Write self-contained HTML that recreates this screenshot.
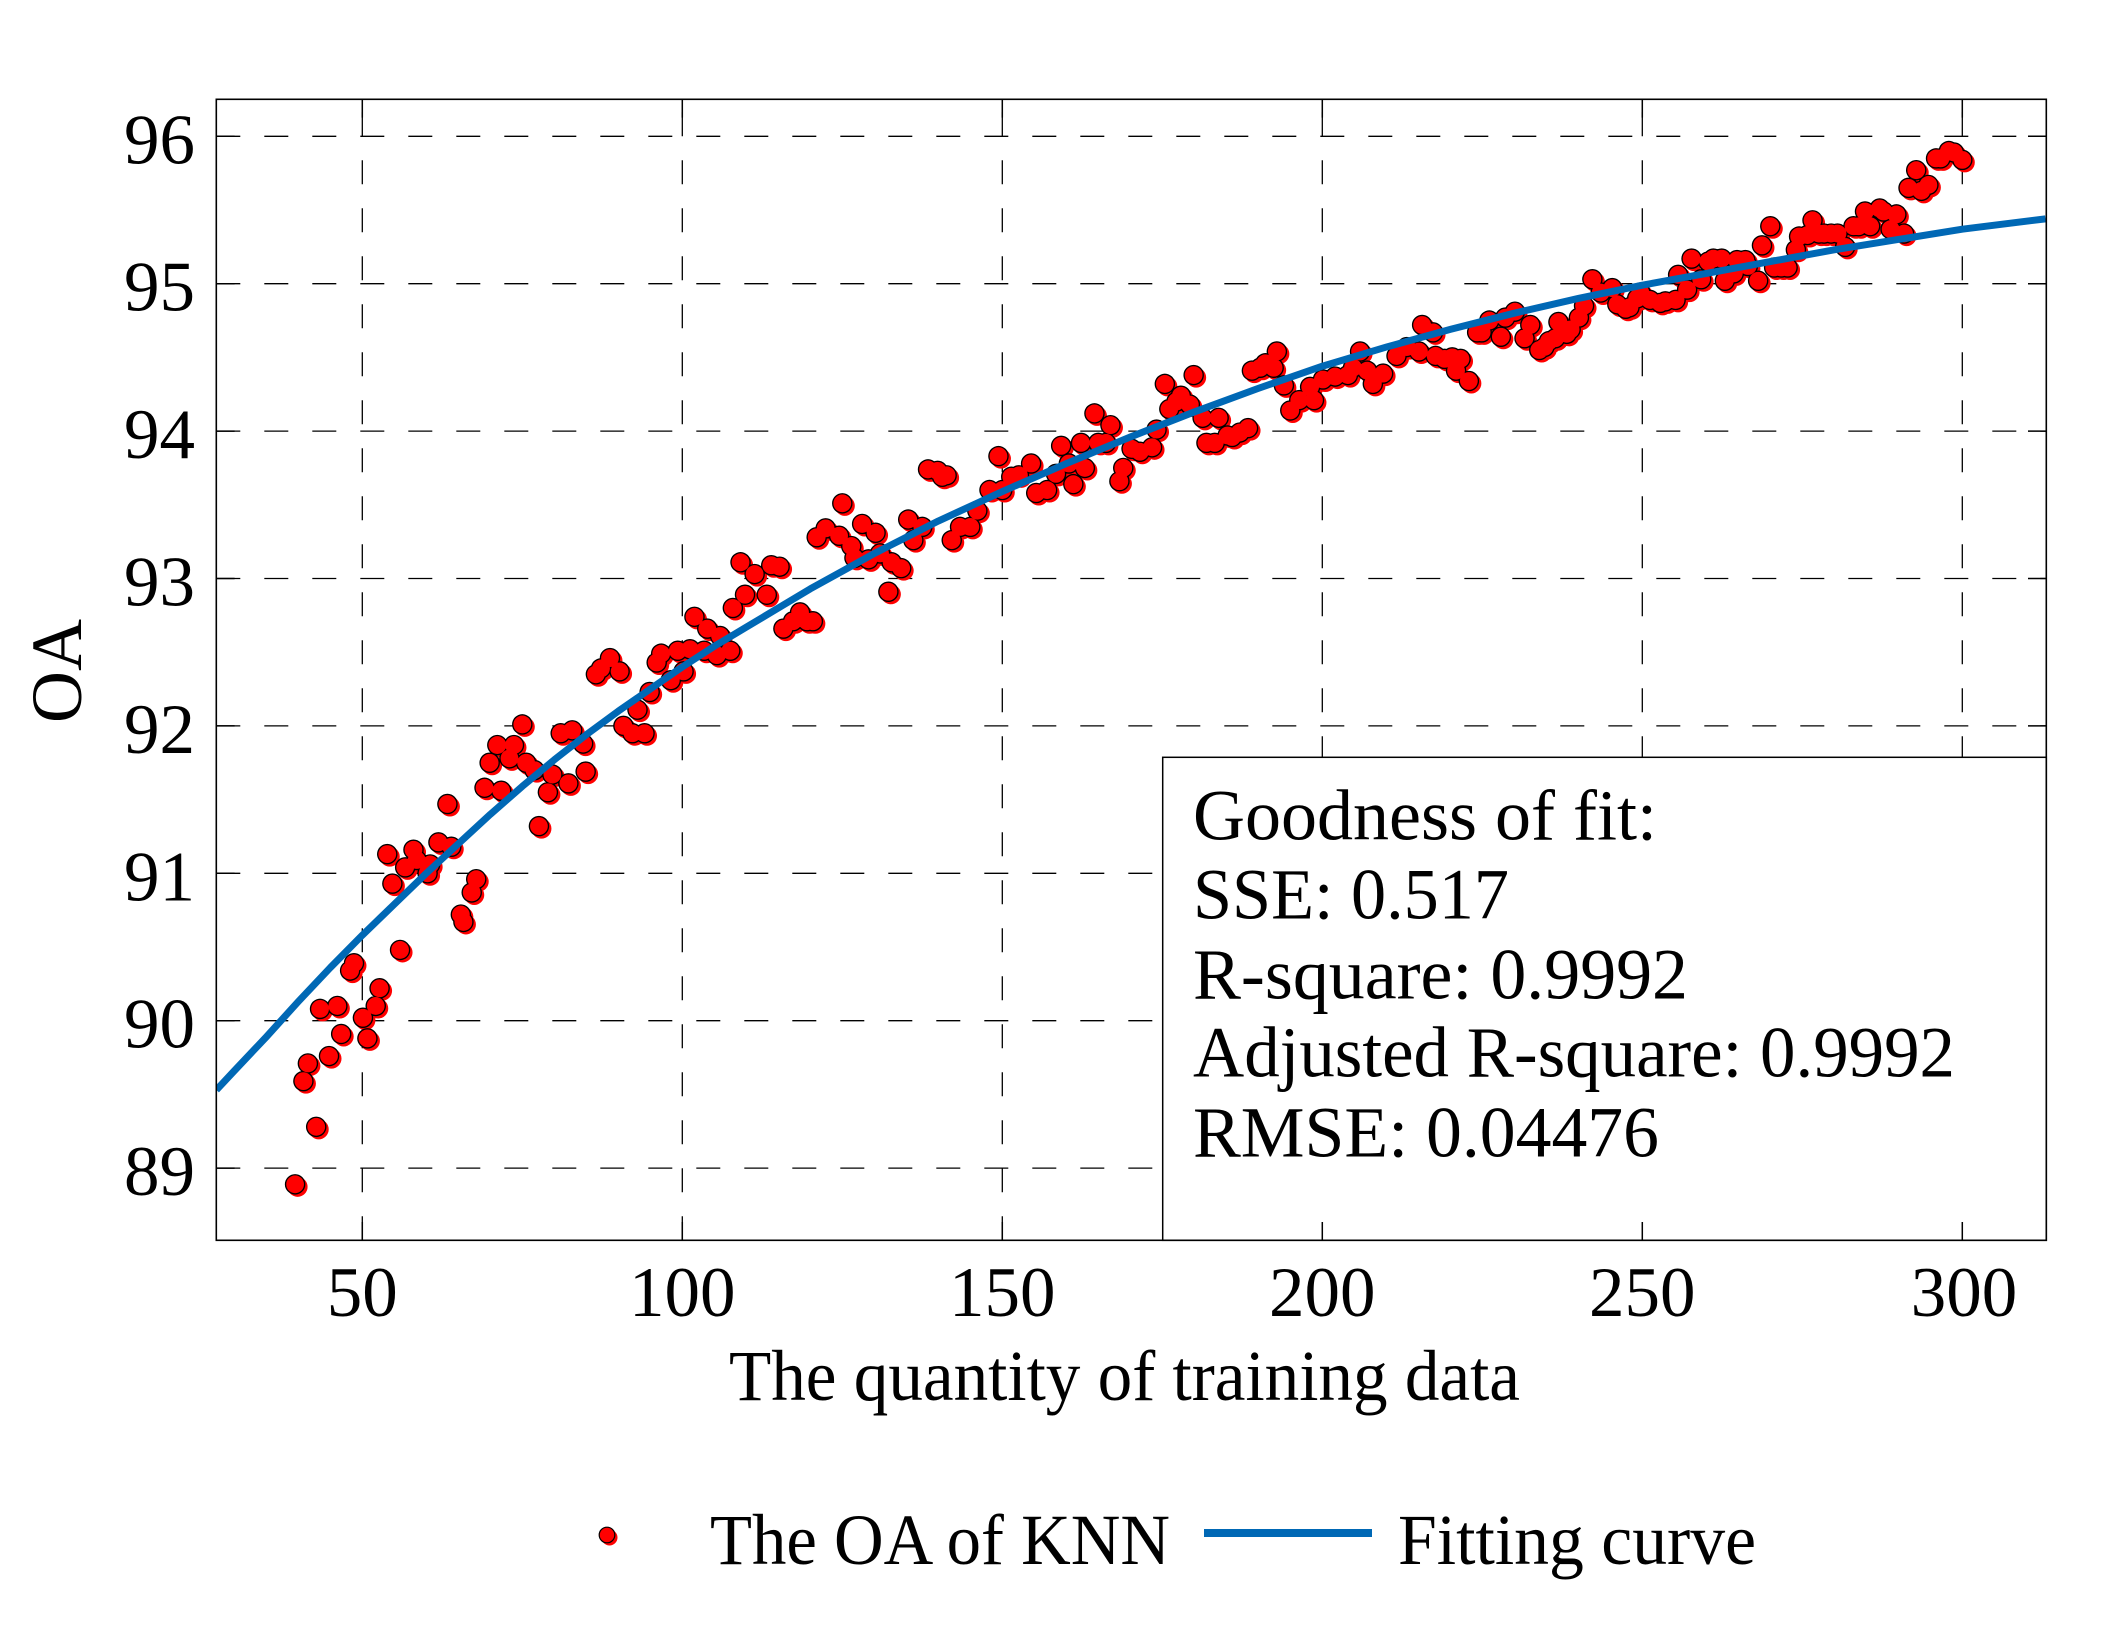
<!DOCTYPE html>
<html>
<head>
<meta charset="utf-8">
<style>
html,body{margin:0;padding:0;background:#fff;}
svg{display:block;}
text{font-family:"Liberation Serif","Times New Roman",serif;fill:#000;}
</style>
</head>
<body>
<svg width="2117" height="1634" viewBox="0 0 2117 1634" xmlns="http://www.w3.org/2000/svg" xmlns:xlink="http://www.w3.org/1999/xlink">
<rect x="0" y="0" width="2117" height="1634" fill="#fff"/>
<defs>
<clipPath id="plot"><rect x="216.3" y="99.3" width="1830" height="1141"/></clipPath>
<path id="pts" vector-effect="non-scaling-stroke" d="M39.5 88.89h0M42.8 89.28h0M40.8 89.59h0M41.5 89.71h0M44.8 89.76h0M46.7 89.91h0M43.4 90.08h0M46.1 90.10h0M50.8 89.88h0M50.1 90.02h0M52.1 90.10h0M52.7 90.22h0M48.1 90.34h0M48.7 90.39h0M55.9 90.48h0M54.7 90.93h0M53.9 91.13h0M56.7 91.04h0M58.0 91.16h0M58.5 91.09h0M60.2 91.00h0M60.6 91.06h0M61.9 91.21h0M63.9 91.18h0M63.3 91.47h0M65.4 90.72h0M65.8 90.67h0M67.1 90.87h0M67.8 90.96h0M69.1 91.58h0M71.7 91.56h0M69.9 91.75h0M71.1 91.87h0M73.7 91.87h0M73.0 91.78h0M75.0 92.01h0M75.6 91.75h0M76.9 91.70h0M77.6 91.32h0M79.0 91.55h0M79.7 91.67h0M82.2 91.61h0M81.0 91.95h0M82.8 91.97h0M84.5 91.88h0M84.9 91.69h0M86.5 92.35h0M87.3 92.39h0M88.7 92.46h0M90.2 92.37h0M90.8 92.00h0M92.2 91.95h0M94.1 91.95h0M93.0 92.11h0M94.9 92.23h0M96.0 92.43h0M96.7 92.49h0M98.2 92.31h0M99.3 92.51h0M100.2 92.37h0M101.2 92.52h0M103.4 92.51h0M105.4 92.48h0M107.5 92.51h0M101.9 92.74h0M103.9 92.66h0M105.9 92.61h0M107.9 92.80h0M109.8 92.89h0M109.1 93.11h0M111.3 93.03h0M113.9 93.09h0M115.2 93.08h0M113.2 92.89h0M115.8 92.66h0M118.4 92.77h0M117.3 92.71h0M119.5 92.71h0M120.4 92.71h0M125.0 93.51h0M121.0 93.28h0M122.4 93.34h0M124.5 93.29h0M126.4 93.22h0M126.9 93.14h0M128.1 93.37h0M130.2 93.31h0M129.1 93.13h0M130.9 93.17h0M132.7 93.11h0M134.2 93.07h0M132.2 92.91h0M135.3 93.40h0M137.5 93.35h0M136.1 93.26h0M138.4 93.74h0M139.9 93.73h0M141.3 93.70h0M142.1 93.26h0M143.4 93.35h0M145.0 93.35h0M146.1 93.46h0M148.0 93.60h0M140.6 93.69h0M149.4 93.83h0M150.0 93.60h0M151.4 93.69h0M152.6 93.70h0M154.5 93.78h0M155.3 93.58h0M157.0 93.60h0M158.4 93.71h0M159.2 93.90h0M160.4 93.78h0M161.1 93.64h0M162.3 93.92h0M162.9 93.75h0M164.4 94.12h0M165.0 93.92h0M166.2 93.92h0M166.9 94.04h0M168.9 93.75h0M168.3 93.66h0M170.2 93.88h0M171.5 93.86h0M173.4 93.89h0M174.1 94.01h0M175.4 94.32h0M176.1 94.15h0M177.2 94.20h0M177.9 94.24h0M179.3 94.18h0M179.9 94.38h0M181.3 94.09h0M181.9 93.92h0M183.2 93.92h0M183.8 94.09h0M185.2 93.97h0M185.9 93.96h0M187.1 93.99h0M188.4 94.02h0M189.0 94.41h0M190.3 94.43h0M191.1 94.46h0M192.4 94.43h0M192.9 94.54h0M194.0 94.31h0M195.0 94.14h0M196.4 94.21h0M198.1 94.30h0M198.7 94.21h0M200.1 94.35h0M202.0 94.37h0M204.0 94.38h0M204.8 94.43h0M205.9 94.54h0M207.0 94.41h0M207.9 94.32h0M209.5 94.39h0M211.6 94.51h0M213.2 94.57h0M215.1 94.54h0M215.6 94.72h0M217.3 94.67h0M217.7 94.51h0M219.1 94.49h0M220.3 94.50h0M221.6 94.49h0M220.9 94.41h0M222.9 94.34h0M224.2 94.67h0M224.9 94.67h0M226.1 94.75h0M227.9 94.64h0M228.6 94.77h0M230.1 94.81h0M231.6 94.63h0M232.5 94.72h0M233.9 94.55h0M234.7 94.57h0M235.4 94.61h0M236.4 94.63h0M236.9 94.74h0M238.2 94.66h0M238.8 94.69h0M240.1 94.77h0M240.9 94.85h0M242.2 95.03h0M243.5 94.94h0M245.3 94.97h0M246.1 94.86h0M247.4 94.83h0M248.0 94.84h0M249.2 94.90h0M249.7 94.94h0M251.2 94.89h0M252.8 94.87h0M253.6 94.88h0M255.2 94.89h0M255.6 95.06h0M257.0 94.96h0M257.7 95.17h0M259.2 95.03h0M260.3 95.15h0M261.1 95.17h0M262.4 95.17h0M262.9 95.02h0M264.3 95.07h0M264.8 95.16h0M266.1 95.16h0M266.5 95.12h0M268.1 95.02h0M268.7 95.26h0M270.0 95.39h0M270.6 95.11h0M271.7 95.11h0M272.7 95.11h0M274.0 95.23h0M274.5 95.32h0M275.8 95.33h0M276.6 95.43h0M277.6 95.34h0M278.4 95.34h0M279.5 95.34h0M280.5 95.34h0M281.7 95.25h0M283.0 95.39h0M283.8 95.39h0M284.8 95.49h0M285.6 95.39h0M287.1 95.51h0M287.7 95.49h0M289.7 95.47h0M288.8 95.37h0M290.9 95.34h0M291.6 95.65h0M292.8 95.77h0M293.6 95.63h0M294.7 95.67h0M295.9 95.85h0M296.6 95.85h0M297.9 95.90h0M298.7 95.89h0M300.0 95.84h0"/>
</defs>

<!-- grid -->
<g stroke="#000" stroke-width="1.3" stroke-dasharray="24 24" fill="none">
<line x1="216.3" y1="136.3" x2="2046.3" y2="136.3"/>
<line x1="216.3" y1="283.7" x2="2046.3" y2="283.7"/>
<line x1="216.3" y1="431.1" x2="2046.3" y2="431.1"/>
<line x1="216.3" y1="578.5" x2="2046.3" y2="578.5"/>
<line x1="216.3" y1="725.9" x2="2046.3" y2="725.9"/>
<line x1="216.3" y1="873.3" x2="2046.3" y2="873.3"/>
<line x1="216.3" y1="1020.7" x2="2046.3" y2="1020.7"/>
<line x1="216.3" y1="1168.1" x2="2046.3" y2="1168.1"/>
<line x1="362.3" y1="1240.3" x2="362.3" y2="99.3"/>
<line x1="682.3" y1="1240.3" x2="682.3" y2="99.3"/>
<line x1="1002.3" y1="1240.3" x2="1002.3" y2="99.3"/>
<line x1="1322.3" y1="1240.3" x2="1322.3" y2="99.3"/>
<line x1="1642.3" y1="1240.3" x2="1642.3" y2="99.3"/>
<line x1="1962.3" y1="1240.3" x2="1962.3" y2="99.3"/>
</g>

<g clip-path="url(#plot)">
<!-- marker shadows -->
<g transform="matrix(6.4 0 0 -147.4 44.8 14289.2)" fill="none" stroke="#ff0000" stroke-width="20" stroke-linecap="round">
<use href="#pts" xlink:href="#pts"/>
</g>
<!-- marker outline -->
<g transform="matrix(6.4 0 0 -147.4 42.3 14286.7)" fill="none" stroke="#000000" stroke-width="20.5" stroke-linecap="round">
<use href="#pts" xlink:href="#pts"/>
</g>
<!-- marker fill -->
<g transform="matrix(6.4 0 0 -147.4 42.3 14286.7)" fill="none" stroke="#ff0000" stroke-width="17.8" stroke-linecap="round">
<use href="#pts" xlink:href="#pts"/>
</g>
<!-- fitting curve -->
<g transform="matrix(6.4 0 0 -147.4 42.3 14286.7)">
<polyline fill="none" stroke="#0068B5" stroke-width="7" stroke-linejoin="round" vector-effect="non-scaling-stroke"
points="27.2,89.53 30,89.66 35,89.89 40,90.13 45,90.36 50,90.58 55,90.79 60,91.00 65,91.20 70,91.40 75,91.59 80,91.77 85,91.94 90,92.10 95,92.25 100,92.40 105,92.54 110,92.67 115,92.80 120,92.93 125,93.05 130,93.17 135,93.28 140,93.39 145,93.49 150,93.59 160,93.78 170,93.96 180,94.13 190,94.29 200,94.44 210,94.57 220,94.69 230,94.80 240,94.90 250,94.99 260,95.07 270,95.15 280,95.23 290,95.30 300,95.37 313,95.44"/>
</g>
</g>

<!-- goodness of fit box -->
<rect x="1162.7" y="757.3" width="883.6" height="483" fill="#fff" stroke="#000" stroke-width="1.5"/>
<g font-size="72">
<text x="1193" y="839.3" textLength="464" lengthAdjust="spacingAndGlyphs">Goodness of fit:</text>
<text x="1193" y="918.3" textLength="316" lengthAdjust="spacingAndGlyphs">SSE: 0.517</text>
<text x="1193" y="998.3" textLength="495" lengthAdjust="spacingAndGlyphs">R-square: 0.9992</text>
<text x="1193" y="1076.7" textLength="762" lengthAdjust="spacingAndGlyphs">Adjusted R-square: 0.9992</text>
<text x="1193" y="1156.7" textLength="466" lengthAdjust="spacingAndGlyphs">RMSE: 0.04476</text>
</g>

<!-- axes box -->
<rect x="216.3" y="99.3" width="1830" height="1141" fill="none" stroke="#000" stroke-width="1.6"/>

<!-- ticks -->
<g stroke="#000" stroke-width="1.5">
<line x1="362.3" y1="1240.3" x2="362.3" y2="1222"/>
<line x1="682.3" y1="1240.3" x2="682.3" y2="1222"/>
<line x1="1002.3" y1="1240.3" x2="1002.3" y2="1222"/>
<line x1="1322.3" y1="1240.3" x2="1322.3" y2="1222"/>
<line x1="1642.3" y1="1240.3" x2="1642.3" y2="1222"/>
<line x1="1962.3" y1="1240.3" x2="1962.3" y2="1222"/>
<line x1="362.3" y1="99.3" x2="362.3" y2="117.6"/>
<line x1="682.3" y1="99.3" x2="682.3" y2="117.6"/>
<line x1="1002.3" y1="99.3" x2="1002.3" y2="117.6"/>
<line x1="1322.3" y1="99.3" x2="1322.3" y2="117.6"/>
<line x1="1642.3" y1="99.3" x2="1642.3" y2="117.6"/>
<line x1="1962.3" y1="99.3" x2="1962.3" y2="117.6"/>
<line x1="216.3" y1="136.3" x2="234.6" y2="136.3"/>
<line x1="216.3" y1="283.7" x2="234.6" y2="283.7"/>
<line x1="216.3" y1="431.1" x2="234.6" y2="431.1"/>
<line x1="216.3" y1="578.5" x2="234.6" y2="578.5"/>
<line x1="216.3" y1="725.9" x2="234.6" y2="725.9"/>
<line x1="216.3" y1="873.3" x2="234.6" y2="873.3"/>
<line x1="216.3" y1="1020.7" x2="234.6" y2="1020.7"/>
<line x1="216.3" y1="1168.1" x2="234.6" y2="1168.1"/>
<line x1="2046.3" y1="136.3" x2="2028" y2="136.3"/>
<line x1="2046.3" y1="283.7" x2="2028" y2="283.7"/>
<line x1="2046.3" y1="431.1" x2="2028" y2="431.1"/>
<line x1="2046.3" y1="578.5" x2="2028" y2="578.5"/>
<line x1="2046.3" y1="725.9" x2="2028" y2="725.9"/>
</g>

<!-- y tick labels -->
<g font-size="71" text-anchor="end">
<text x="195" y="163.3">96</text>
<text x="195" y="310.7">95</text>
<text x="195" y="458.1">94</text>
<text x="195" y="605.5">93</text>
<text x="195" y="752.9">92</text>
<text x="195" y="900.3">91</text>
<text x="195" y="1047.7">90</text>
<text x="195" y="1195.1">89</text>
</g>

<!-- x tick labels -->
<g font-size="71" text-anchor="middle">
<text x="362.3" y="1316">50</text>
<text x="682.3" y="1316">100</text>
<text x="1002.3" y="1316">150</text>
<text x="1322.3" y="1316">200</text>
<text x="1642.3" y="1316">250</text>
<text x="1964" y="1316">300</text>
</g>

<!-- axis labels -->
<text x="729" y="1400" font-size="72" textLength="791" lengthAdjust="spacingAndGlyphs">The quantity of training data</text>
<text transform="translate(81 671) rotate(-90)" font-size="72" text-anchor="middle">OA</text>

<!-- legend -->
<circle cx="609.5" cy="1537.5" r="8" fill="#ff0000"/>
<circle cx="607" cy="1535" r="7.8" fill="#ff0000" stroke="#000" stroke-width="1.2"/>
<text x="710" y="1564" font-size="72" textLength="460" lengthAdjust="spacingAndGlyphs">The OA of KNN</text>
<line x1="1204" y1="1533" x2="1372" y2="1533" stroke="#0068B5" stroke-width="8"/>
<text x="1398" y="1564" font-size="72" textLength="358" lengthAdjust="spacingAndGlyphs">Fitting curve</text>
</svg>
</body>
</html>
